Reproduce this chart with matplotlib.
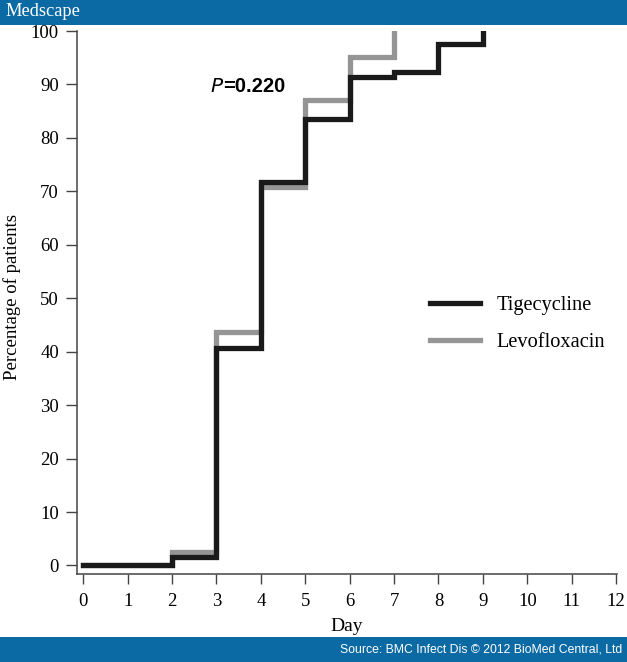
import matplotlib
matplotlib.use("Agg")
import matplotlib.pyplot as plt
from matplotlib.patches import Rectangle

# step data (day the step starts, % of patients)
tig_days = [0, 2, 3, 4, 5, 6, 7, 8, 9]
tig_pct = [0, 1.6, 40.7, 71.8, 83.5, 91.3, 92.3, 97.6, 99.6]
levo_days = [0, 2, 3, 4, 5, 6, 7]
levo_pct = [0, 2.6, 43.7, 70.8, 87.1, 95.2, 99.6]

x_ticks = list(range(0, 13))
y_ticks = list(range(0, 101, 10))

BLUE = "#0b6aa4"
SERIF = "Liberation Serif"


def main():
    fig = plt.figure(figsize=(6.27, 6.62), dpi=100)
    fig.patch.set_facecolor("white")

    # Medscape banners
    fig.add_artist(Rectangle((0, 1 - 25 / 662), 1, 25 / 662,
                             transform=fig.transFigure, color=BLUE, lw=0))
    fig.add_artist(Rectangle((0, 0), 1, 25 / 662,
                             transform=fig.transFigure, color=BLUE, lw=0))
    fig.text(5 / 627, 1 - 12 / 662, "Medscape", color="white",
             family=SERIF, fontsize=13.2, va="center", ha="left")
    fig.text(622 / 627, 13 / 662,
             "Source: BMC Infect Dis \u00a9 2012 BioMed Central, Ltd",
             color="white", family="Liberation Sans", fontsize=8.85,
             va="center", ha="right")

    ax = fig.add_axes([77 / 627, 88 / 662, 540 / 627, 543 / 662])

    ax.step(levo_days, levo_pct, where="post", color="#959595", lw=3.8,
            label="Levofloxacin", solid_joinstyle="miter")
    ax.step(tig_days, tig_pct, where="post", color="#1a1a1a", lw=3.8,
            label="Tigecycline", solid_joinstyle="miter")

    ax.set_xlim(-0.14, 12.02)
    ax.set_ylim(-1.6, 100)
    ax.set_xticks(x_ticks)
    ax.set_yticks(y_ticks)
    ax.set_xticklabels([str(t) for t in x_ticks], family=SERIF, fontsize=13.5)
    ax.set_yticklabels([str(t) for t in y_ticks], family=SERIF, fontsize=13.5)
    ax.tick_params(axis="x", length=7, width=1, color="#444444", pad=7)
    ax.tick_params(axis="y", length=8, width=1, color="#444444", pad=5)

    for side in ["top", "right"]:
        ax.spines[side].set_visible(False)
    for side in ["left", "bottom"]:
        ax.spines[side].set_color("#444444")
        ax.spines[side].set_linewidth(1.1)

    ax.set_xlabel("Day", family=SERIF, fontsize=14)
    ax.xaxis.set_label_coords(0.5, -0.081)
    ax.set_ylabel("Percentage of patients", family=SERIF, fontsize=13.5)
    ax.yaxis.set_label_coords(-0.104, 0.51)

    ax.text(2.86, 89.6, "$\\mathit{P}$", fontsize=14.5, va="center",
            ha="left", family="Liberation Sans")
    ax.text(3.16, 89.6, "=0.220", fontsize=14.5, va="center", ha="left",
            family="Liberation Sans", weight="bold")

    handles, labels = ax.get_legend_handles_labels()
    leg = ax.legend(handles[::-1], labels[::-1], loc="upper left",
                    bbox_to_anchor=(430 / 627, 1 - 296 / 662),
                    bbox_transform=fig.transFigure, frameon=False,
                    prop={"family": SERIF, "size": 14.7}, handlelength=2.45,
                    handletextpad=0.8, labelspacing=0.85, borderpad=0,
                    borderaxespad=0)
    for line in leg.get_lines():
        line.set_linewidth(3.8)

    fig.savefig("out.png", dpi=100)


if __name__ == "__main__":
    main()
